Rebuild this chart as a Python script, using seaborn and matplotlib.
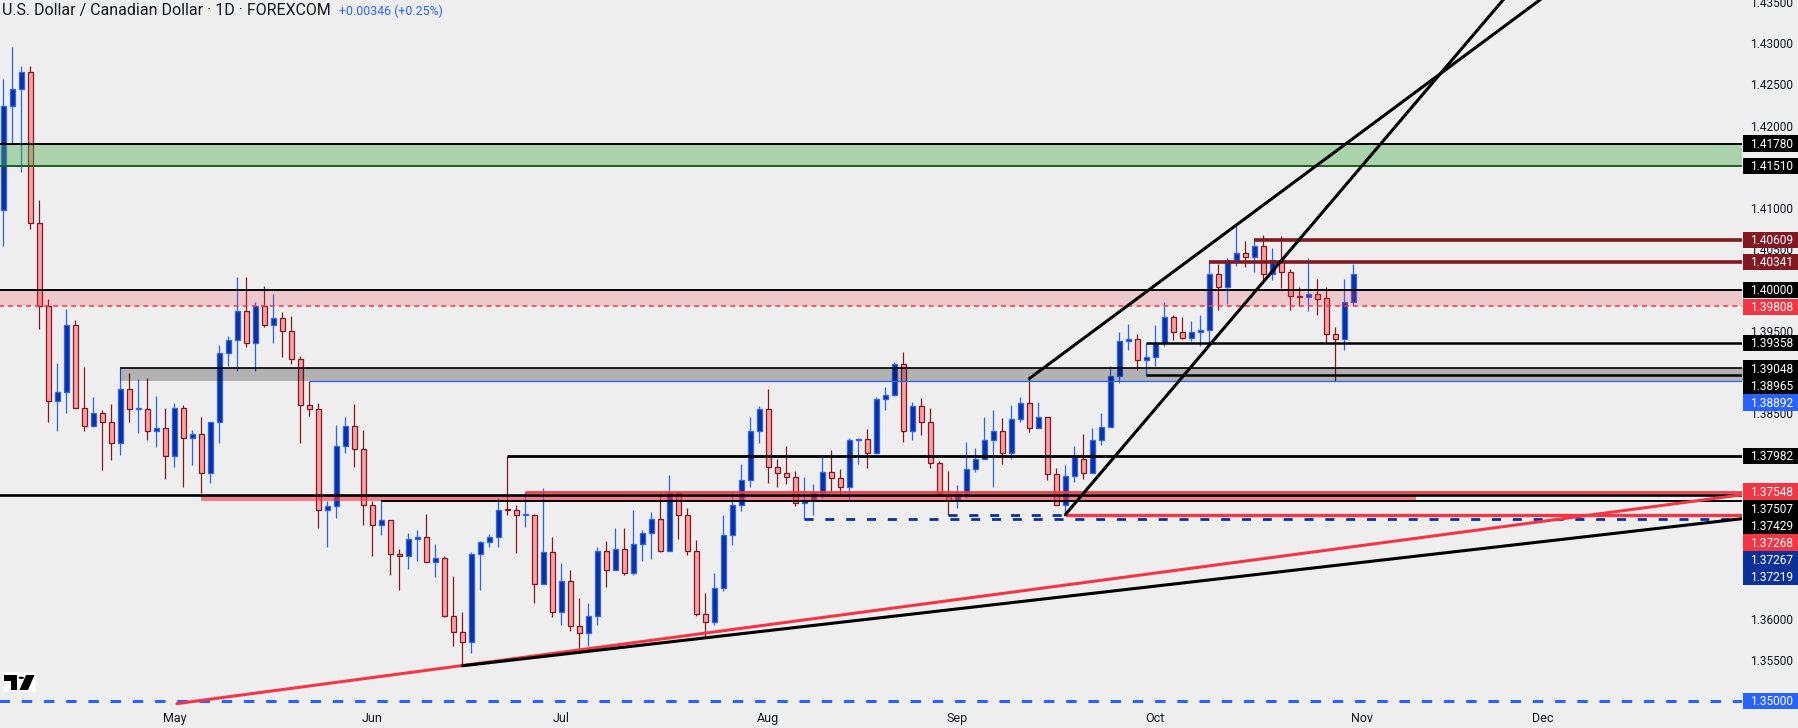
import numpy as np
import pandas as pd
import matplotlib
matplotlib.use("Agg")
import matplotlib.pyplot as plt
import seaborn as sns
from matplotlib.patches import Rectangle, Polygon, Circle

# ---------------- data ----------------
first_date = "2025-04-04"

opens = [1.4097, 1.4224, 1.4245, 1.4265, 1.4081, 1.3981, 1.3865, 1.3876, 1.3958, 1.3857,
         1.3835, 1.3850, 1.3840, 1.3814, 1.3880, 1.3855, 1.3855, 1.3829, 1.3832, 1.3798,
         1.3856, 1.3820, 1.3825, 1.3778, 1.3839, 1.3923, 1.3939, 1.3974, 1.3935, 1.3981,
         1.3958, 1.3966, 1.3950, 1.3916, 1.3860, 1.3855, 1.3733, 1.3737, 1.3810, 1.3835,
         1.3807, 1.3739, 1.3714, 1.3720, 1.3679, 1.3676, 1.3697, 1.3700, 1.3669, 1.3674,
         1.3603, 1.3584, 1.3572, 1.3679, 1.3694, 1.3700, 1.3734, 1.3733, 1.3726, 1.3726,
         1.3642, 1.3681, 1.3609, 1.3646, 1.3591, 1.3583, 1.3604, 1.3682, 1.3660, 1.3685,
         1.3656, 1.3691, 1.3705, 1.3722, 1.3682, 1.3753, 1.3726, 1.3682, 1.3606, 1.3596,
         1.3637, 1.3702, 1.3739, 1.3769, 1.3828, 1.3855, 1.3785, 1.3778, 1.3773, 1.3741,
         1.3745, 1.3753, 1.3779, 1.3771, 1.3760, 1.3817, 1.3819, 1.3802, 1.3868, 1.3872,
         1.3910, 1.3828, 1.3859, 1.3839, 1.3790, 1.3749, 1.3745, 1.3753, 1.3782, 1.3794,
         1.3818, 1.3828, 1.3802, 1.3843, 1.3863, 1.3832, 1.3845, 1.3776, 1.3739, 1.3774,
         1.3795, 1.3778, 1.3818, 1.3834, 1.3896, 1.3938, 1.3941, 1.3915, 1.3919, 1.3935,
         1.3967, 1.3949, 1.3942, 1.3949, 1.3951, 1.4020, 1.4004, 1.4036, 1.4045, 1.4040,
         1.4054, 1.4020, 1.4036, 1.4022, 1.3993, 1.3991, 1.3995, 1.3990, 1.3946, 1.3941,
         1.3985]

highs = [1.4257, 1.4296, 1.4272, 1.4272, 1.4109, 1.3989, 1.3911, 1.3977, 1.3964, 1.3906,
         1.3870, 1.3854, 1.3861, 1.39048, 1.3899, 1.3892, 1.3893, 1.3871, 1.3856, 1.3862,
         1.3860, 1.3830, 1.3846, 1.3840, 1.3933, 1.3944, 1.4016, 1.4016, 1.3986, 1.4005,
         1.3995, 1.3973, 1.3968, 1.3920, 1.38892, 1.3863, 1.3743, 1.3836, 1.3845, 1.3861,
         1.3830, 1.3743, 1.37429, 1.3720, 1.3685, 1.3704, 1.3708, 1.3728, 1.3691, 1.3677,
         1.3652, 1.3608, 1.3681, 1.3695, 1.3703, 1.3747, 1.37982, 1.3738, 1.37548, 1.3728,
         1.3759, 1.3700, 1.3668, 1.3660, 1.3625, 1.3619, 1.3687, 1.3695, 1.3710, 1.3710,
         1.3732, 1.3708, 1.3730, 1.3754, 1.3775, 1.3754, 1.3735, 1.3696, 1.3631, 1.3656,
         1.3726, 1.3754, 1.3788, 1.3846, 1.3859, 1.3880, 1.3795, 1.3810, 1.3780, 1.3773,
         1.3764, 1.3797, 1.3806, 1.3782, 1.3820, 1.3820, 1.3831, 1.3870, 1.3882, 1.3913,
         1.3925, 1.3864, 1.3869, 1.3857, 1.3792, 1.3780, 1.3763, 1.3815, 1.3808, 1.3846,
         1.3854, 1.3844, 1.3860, 1.3870, 1.3893, 1.3864, 1.3845, 1.3783, 1.3787, 1.3810,
         1.3825, 1.3832, 1.3850, 1.3907, 1.3949, 1.3959, 1.3947, 1.39358, 1.3957, 1.3985,
         1.3970, 1.3967, 1.3962, 1.3970, 1.40341, 1.4032, 1.4039, 1.4079, 1.4060, 1.40609,
         1.4067, 1.4051, 1.4066, 1.4025, 1.4004, 1.4039, 1.4013, 1.4004, 1.3955, 1.4013,
         1.4032]

lows = [1.4054, 1.4178, 1.4143, 1.4074, 1.3952, 1.3840, 1.3829, 1.3851, 1.3856, 1.3829,
        1.3834, 1.3781, 1.3793, 1.3799, 1.3840, 1.3826, 1.3817, 1.3809, 1.3770, 1.3785,
        1.3761, 1.3787, 1.3753, 1.3765, 1.3814, 1.3907, 1.3901, 1.3931, 1.3902, 1.3955,
        1.3936, 1.3918, 1.3910, 1.3814, 1.3847, 1.3710, 1.3687, 1.3723, 1.3802, 1.3785,
        1.3714, 1.3676, 1.3702, 1.3653, 1.3635, 1.3661, 1.3671, 1.3669, 1.3651, 1.3602,
        1.3567, 1.3543, 1.3558, 1.3635, 1.3688, 1.3688, 1.3726, 1.3680, 1.3712, 1.3619,
        1.3642, 1.3602, 1.3592, 1.3585, 1.3562, 1.3567, 1.3592, 1.3639, 1.3660, 1.3653,
        1.3653, 1.3671, 1.3673, 1.3681, 1.3682, 1.3697, 1.3678, 1.3604, 1.3577, 1.3592,
        1.3634, 1.3690, 1.3731, 1.3760, 1.3814, 1.3765, 1.3760, 1.3764, 1.3737, 1.37219,
        1.3726, 1.3747, 1.3753, 1.3749, 1.3745, 1.3788, 1.3784, 1.3800, 1.3854, 1.3871,
        1.3815, 1.3818, 1.3824, 1.3784, 1.3749, 1.37267, 1.3735, 1.3747, 1.3779, 1.3794,
        1.3760, 1.3789, 1.3794, 1.3840, 1.3827, 1.3832, 1.3769, 1.3738, 1.37268, 1.3767,
        1.3770, 1.3778, 1.3812, 1.3833, 1.3887, 1.3927, 1.3903, 1.38965, 1.3907, 1.3932,
        1.3939, 1.3940, 1.3938, 1.3932, 1.3935, 1.3976, 1.3983, 1.4029, 1.4028, 1.4022,
        1.4008, 1.4012, 1.4003, 1.3976, 1.3980, 1.3974, 1.3970, 1.3936, 1.3889, 1.3927,
        1.3980]

closes = [1.4224, 1.4245, 1.4265, 1.4081, 1.3981, 1.3865, 1.3876, 1.3958, 1.3857, 1.3835,
          1.3850, 1.3840, 1.3814, 1.3880, 1.3855, 1.3856, 1.3829, 1.3832, 1.3798, 1.3856,
          1.3820, 1.3825, 1.3778, 1.3839, 1.3923, 1.3939, 1.3974, 1.3935, 1.3981, 1.3958,
          1.3966, 1.3950, 1.3916, 1.3860, 1.3855, 1.3733, 1.3737, 1.3810, 1.3835, 1.3807,
          1.3739, 1.3714, 1.3720, 1.3679, 1.3676, 1.3697, 1.3700, 1.3669, 1.3674, 1.3603,
          1.3584, 1.3572, 1.3679, 1.3694, 1.3700, 1.3733, 1.3733, 1.3726, 1.3727, 1.3642,
          1.3681, 1.3609, 1.3646, 1.3591, 1.3583, 1.3604, 1.3682, 1.3660, 1.3685, 1.3656,
          1.3691, 1.3705, 1.3722, 1.3682, 1.3753, 1.3726, 1.3682, 1.3606, 1.3596, 1.3637,
          1.3702, 1.3739, 1.3769, 1.3828, 1.3855, 1.3785, 1.3778, 1.3773, 1.3741, 1.3745,
          1.3753, 1.3779, 1.3771, 1.3760, 1.3817, 1.3819, 1.3802, 1.3868, 1.3872, 1.3910,
          1.3828, 1.3859, 1.3839, 1.3790, 1.3753, 1.3745, 1.3752, 1.3782, 1.3794, 1.3818,
          1.3828, 1.3802, 1.3843, 1.3863, 1.3832, 1.3845, 1.3776, 1.3739, 1.3774, 1.3797,
          1.3778, 1.3818, 1.3834, 1.3896, 1.3938, 1.3941, 1.3915, 1.3919, 1.3935, 1.3967,
          1.3949, 1.3942, 1.3949, 1.3951, 1.4020, 1.4004, 1.4036, 1.4045, 1.4040, 1.4054,
          1.4020, 1.4036, 1.4022, 1.3993, 1.3991, 1.3995, 1.3989, 1.3946, 1.3941, 1.3985,
          1.4019]

# horizontal levels (price, starting bar or None = from left edge, ending bar or None = right edge)
level_prices = [1.41780, 1.41510, 1.40609, 1.40341, 1.40000, 1.39808, 1.39358, 1.39048, 1.38965,
                1.38892, 1.37982, 1.37548, 1.37507, 1.37429, 1.37268, 1.37267, 1.37219, 1.35000]
level_start = [None, None, 139, 134, None, None, 127, 13, 127, 34, 56, 58, None, 42, 118, 105, 89, None]
level_end = [None] * 15 + [118, None, None]

# zones: (low, high, start bar, end bar)
zone_low = [1.41510, 1.39808, 1.38892, 1.37429]
zone_high = [1.41780, 1.40000, 1.39048, 1.37507]
zone_start = [None, None, 13, 22]
zone_end = [None, None, None, 157]

# trend lines: two anchors each (bar index, price), extended right
trend_x0 = [19.3, 51.0, 114.0, 118.0]
trend_y0 = [1.3497, 1.3543, 1.38923, 1.37268]
trend_x1 = [193.2, 193.2, 137.0, 147.7]
trend_y1 = [1.3751, 1.37219, 1.4079, 1.4109]

title = "U.S. Dollar / Canadian Dollar \u00b7 1D \u00b7 FOREXCOM"
change_text = "+0.00346 (+0.25%)"

# ---------------- style ----------------
W, H = 1799, 728
PANE_RIGHT, PANE_BOTTOM = 1742, 706
BG = "#eeeeee"
TXT = "#131722"
UP_BODY, UP_EDGE = "#0c3299", "#2962ff"
DN_BODY, DN_EDGE = "#faa1a4", "#801922"

level_colors = ["#000000", "#1b5e20", "#801922", "#801922", "#000000", "#f23645", "#000000", "#000000",
                "#000000", "#2962ff", "#000000", "#f23645", "#000000", "#000000", "#f23645", "#0c3299",
                "#0c3299", "#2962ff"]
level_widths = [1.4, 1.4, 2.6, 2.6, 1.4, 1.1, 1.8, 1.2, 1.8, 0.9, 2.0, 1.9, 1.9, 1.4, 2.4, 2.0, 2.0, 2.2]
level_dashes = [None] * 5 + [(3.5, 3.0)] + [None] * 9 + [(6.5, 8.5), (6.5, 8.5), (7.5, 8.5)]
label_colors = ["#000000", "#000000", "#801922", "#801922", "#000000", "#f23645", "#000000", "#000000",
                "#000000", "#2962ff", "#000000", "#f23645", "#000000", "#000000", "#f23645", "#0c3299",
                "#0c3299", "#2962ff"]
zone_colors = ["#4caf50", "#f23645", "#000000", "#f23645"]
zone_alpha = [0.42, 0.2, 0.25, 0.6]
trend_colors = ["#f23645", "#000000", "#000000", "#000000"]

sns.set_theme(style="white")
plt.rcParams["font.family"] = ["Roboto", "DejaVu Sans"]
plt.rcParams["lines.scale_dashes"] = False

# ---------------- figure ----------------
fig = plt.figure(figsize=(W / 100, H / 100), dpi=100, facecolor=BG)
ax = fig.add_axes([0, (H - PANE_BOTTOM) / H, PANE_RIGHT / W, PANE_BOTTOM / H])
ax.set_facecolor(BG)

o = np.array(opens); h = np.array(highs); l = np.array(lows); c = np.array(closes)
n = len(o)
idx = np.arange(n)
dates = pd.bdate_range(first_date, periods=n + 60)

bar_px = 9.0
x_left = -3.3 / bar_px
x_right = x_left + PANE_RIGHT / bar_px
y_top = 1.43527
y_bottom = 1.34941
ax.set_xlim(x_left, x_right)
ax.set_ylim(y_bottom, y_top)

# candles
up = c >= o
ax.vlines(idx[up], l[up], h[up], color=UP_EDGE, lw=0.9, zorder=2)
ax.vlines(idx[~up], l[~up], h[~up], color=DN_EDGE, lw=0.9, zorder=2)
body_lo = np.minimum(o, c)
body_h = np.maximum(np.abs(c - o), 0.00006)
ax.bar(idx[up], body_h[up], bottom=body_lo[up], width=0.6, color=UP_BODY,
       edgecolor=UP_EDGE, linewidth=0.9, zorder=3)
ax.bar(idx[~up], body_h[~up], bottom=body_lo[~up], width=0.6, color=DN_BODY,
       edgecolor=DN_EDGE, linewidth=0.9, zorder=3)

# zones
for lo_, hi_, s, e, col, a in zip(zone_low, zone_high, zone_start, zone_end, zone_colors, zone_alpha):
    xs = x_left - 5 if s is None else s
    xe = x_right + 5 if e is None else e
    ax.fill_between([xs, xe], [lo_, lo_], [hi_, hi_], color=col, alpha=a, lw=0, zorder=4)

# horizontal levels
for p, s, e, col, lw, d in zip(level_prices, level_start, level_end, level_colors, level_widths, level_dashes):
    xs = x_left - 5 if s is None else s
    xe = x_right + 5 if e is None else e
    ln, = ax.plot([xs, xe], [p, p], color=col, lw=lw, zorder=5, solid_capstyle="butt")
    if d is not None:
        ln.set_linestyle((0, d))

# trend lines (extended right)
x_ext = x_right + 10
for x0, y0, x1, y1, col in zip(trend_x0, trend_y0, trend_x1, trend_y1, trend_colors):
    slope = (y1 - y0) / (x1 - x0)
    sns.lineplot(x=[x0, x_ext], y=[y0, y0 + slope * (x_ext - x0)], ax=ax, color=col,
                 linewidth=2.2, zorder=6, estimator=None, sort=False)

# axes cosmetics
for sp in ax.spines.values():
    sp.set_visible(False)
ax.grid(False)
ax.set_xlabel(""); ax.set_ylabel("")

# month ticks
month_pos, month_lab = [], []
for i in range(1, len(dates)):
    if dates[i].month != dates[i - 1].month:
        month_pos.append(i)
        month_lab.append(dates[i].strftime("%b"))
ax.set_xticks(month_pos)
ax.set_xticklabels(month_lab)
ax.tick_params(axis="x", length=0, pad=4.2, labelsize=9, labelcolor=TXT)
ax.set_xlim(x_left, x_right)
ax.set_ylim(y_bottom, y_top)

# price labels on the scale, stacked to avoid overlap
ys = [H - ax.transData.transform((0, p))[1] for p in level_prices]
order = sorted(range(len(level_prices)), key=lambda k: (ys[k], -level_prices[k]))
box_h = 16.6
prev = -1e9
box_centers = []
for k in order:
    yc = max(ys[k], prev + 17.0)
    prev = yc
    box_centers.append(yc)
    fig.patches.append(Rectangle(((PANE_RIGHT + 0.7) / W, (H - yc - box_h / 2) / H),
                                 (W - PANE_RIGHT) / W, box_h / H, transform=fig.transFigure,
                                 facecolor=label_colors[k], edgecolor="none", zorder=10))
    fig.text(1793 / W, (H - yc - 0.8) / H, f"{level_prices[k]:.5f}", color="white",
             ha="right", va="center", fontsize=8.6, zorder=11)

# price scale: ticks hidden where a price label box covers them
yt_all = np.round(np.arange(1.350, 1.4351, 0.005), 3)
yt = [v for v in yt_all
      if all(abs((H - ax.transData.transform((0, v))[1]) - bc) > box_h / 2 for bc in box_centers)]
ax.yaxis.tick_right()
ax.set_yticks(yt)
ax.set_yticklabels([f"{v:.5f}" for v in yt])
ax.tick_params(axis="y", length=0, pad=(1793 - PANE_RIGHT) * 0.72, labelsize=8.6, labelcolor=TXT)
for t in ax.get_yticklabels():
    t.set_ha("right")
ax.set_xlim(x_left, x_right)
ax.set_ylim(y_bottom, y_top)

# title
t1 = fig.text(2 / W, 1 - 11 / H, title, color=TXT, fontsize=11.5, va="center", ha="left")
r = fig.canvas.get_renderer()
bb = t1.get_window_extent(r)
fig.text((bb.x1 + 8) / W, 1 - 11 / H, change_text, color="#2962ff", fontsize=8.9, va="center", ha="left")

# TradingView logo
def px(x, y):
    return (x / W, (H - y) / H)

fig.patches.append(Rectangle(px(2.7, 692), 33.5 / W, 20 / H, transform=fig.transFigure,
                             facecolor="white", edgecolor="none", zorder=12))
fig.patches.append(Polygon([px(4.5, 675), px(17.5, 675), px(17.5, 690), px(11, 690), px(11, 681),
                            px(4.5, 681)], closed=True, transform=fig.transFigure,
                           facecolor="black", edgecolor="none", zorder=13))
fig.patches.append(Circle(px(21.3, 677.8), 2.8 / W, transform=fig.transFigure,
                          facecolor="black", edgecolor="none", zorder=13))
fig.patches.append(Polygon([px(26, 675), px(34.5, 675), px(28, 690), px(19.5, 690)], closed=True,
                           transform=fig.transFigure, facecolor="black", edgecolor="none", zorder=13))

fig.savefig("out.png", dpi=100, facecolor=BG)
